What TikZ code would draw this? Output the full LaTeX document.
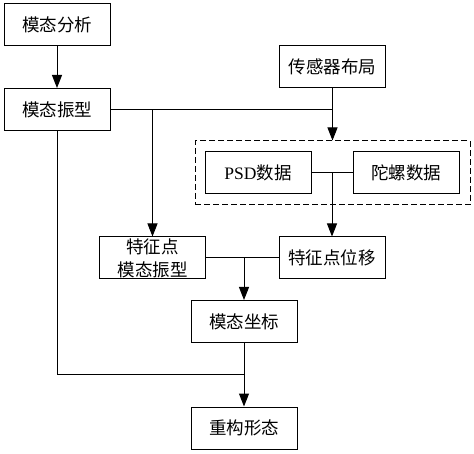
\documentclass[tikz,border=0pt]{standalone}
\usepackage{fontspec}
\setmainfont{Liberation Serif}
\newfontfamily\cjk{Noto Sans CJK SC}
\usetikzlibrary{arrows.meta,calc}
\begin{document}
\begin{tikzpicture}[x=1pt,y=-1pt,
  box/.style={draw,line width=1pt,minimum width=106pt,minimum height=42pt,inner sep=0pt,
    font=\cjk\fontsize{17.5}{23}\selectfont,align=center},
  grp/.style={draw,line width=1pt,dash pattern=on 6pt off 3pt,minimum width=275pt,minimum height=64pt,inner sep=0pt},
  conn/.style={line width=1pt},
  arr/.style={line width=1pt,-{Triangle[length=13pt,width=10pt]}}]
\useasboundingbox (0,0) rectangle (474,454);
\node[box] (A) at (57,24.5) {模态分析};
\node[box] (B) at (57,109.5) {模态振型};
\node[box] (C) at (332.5,67) {传感器布局};
\node[grp] (D) at (332.5,173) {};
\node[box] (E) at (258,173) {{\rmfamily PSD}数据};
\node[box] (F) at (406,173) {陀螺数据};
\node[box] (G) at (152.5,258) {特征点\\模态振型};
\node[box] (H) at (332,258) {特征点位移};
\node[box] (I) at (244,321.5) {模态坐标};
\node[box] (J) at (244,428) {重构形态};
\coordinate (j1) at (B.east -| C.south);
\coordinate (j2) at (B.east -| G.north);
\coordinate (j3) at (E.east -| H.north);
\coordinate (j4) at (G.east -| I.north);
\coordinate (j5) at ($(I.south)!0.5!(J.north)$);
\draw[arr] (A) -- (B);
\draw[conn] (B.east) -- (j1);
\draw[arr] (C) -- (D);
\draw[arr] (j2) -- (G);
\draw[conn] (E) -- (F);
\draw[arr] (j3) -- (H);
\draw[conn] (G) -- (H);
\draw[arr] (j4) -- (I);
\draw[arr] (I) -- (J);
\draw[conn] (B.south) |- (j5);
\end{tikzpicture}
\end{document}
